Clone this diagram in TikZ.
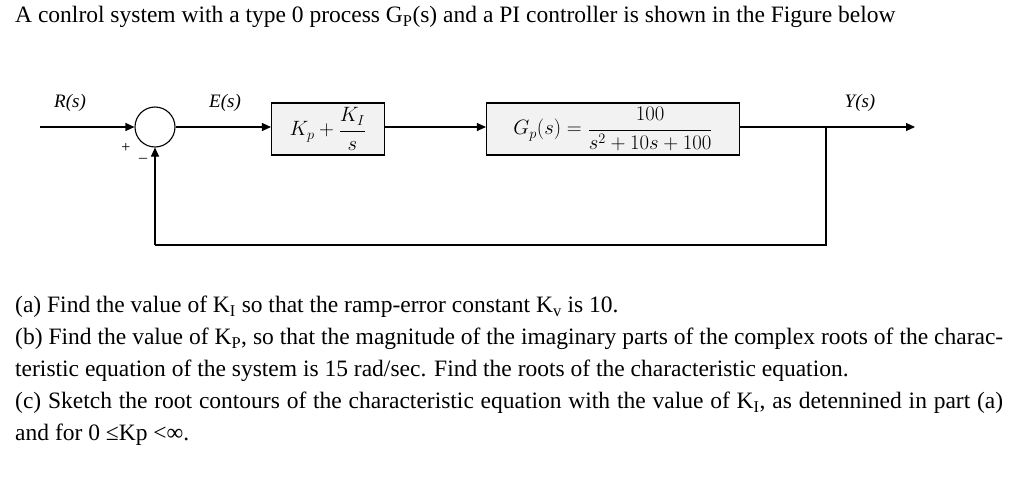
\documentclass[tikz,border=0pt]{standalone}
\usepackage{fontspec}
\setmainfont{Liberation Serif}
\usetikzlibrary{arrows.meta}
\begin{document}
\begin{tikzpicture}[x=1pt,y=-1pt,
  para/.style={anchor=north west,inner sep=0pt,text width=988pt,align=justify,font=\fontsize{23.5}{32}\selectfont},
  blk/.style={draw,line width=1.1pt,fill=black!5,minimum height=52pt,inner sep=2pt,font=\fontsize{20}{22}\selectfont\itshape},
  sig/.style={line width=1.1pt},
  arr/.style={sig,-{Triangle[length=9pt,width=8pt]}},
  lab/.style={font=\fontsize{19}{20}\selectfont\itshape}]
\useasboundingbox (0,0) rectangle (1024,503);
\node[para] (t1) at (15,6) {A conlrol system with a type 0 process G\textsubscript{P}(s) and a PI controller is shown in the Figure below};
\node[circle,draw,line width=1.1pt,minimum size=40pt,inner sep=0pt] (sum) at (155,127) {};
\coordinate (in) at (40,127);
\node[blk,minimum width=113pt] (c) at (328,129) {$K_p+\displaystyle\frac{K_I}{s}$};
\node[blk,minimum width=253pt] (g) at (613,129) {$G_p(s)=\displaystyle\frac{100}{s^2+10s+100}$};
\coordinate (br) at (826,127);
\coordinate (out) at (915,127);
\coordinate (fb1) at (826,245);
\coordinate (fb2) at (155,245);
\draw[arr] (in) -- (sum);
\draw[arr] (sum) -- (c.west|-sum);
\draw[arr] (c.east|-sum) -- (g.west|-sum);
\draw[arr] (g.east|-sum) -- (out);
\draw[sig] (br) -- (fb1) -- (fb2);
\draw[arr] (fb2) -- (sum.south);
\node[lab] (r) at (70,103) {R(s)};
\node[lab] (e) at (225,103) {E(s)};
\node[lab] (y) at (860,103) {Y(s)};
\node[font=\fontsize{16}{16}\selectfont] (p) at (126,148) {+};
\node[font=\fontsize{16}{16}\selectfont] (m) at (143,160) {--};
\node[para] (q) at (15,296) {(a) Find the value of K\textsubscript{I} so that the ramp-error constant K\textsubscript{v} is 10.\\
(b) Find the value of K\textsubscript{P}, so that the magnitude of the imaginary parts of the complex roots of the characteristic equation of the system is 15 rad/sec. Find the roots of the characteristic equation.\\
(c) Sketch the root contours of the characteristic equation with the value of K\textsubscript{I}, as detennined in part (a) and for 0 ≤Kp <∞.};
\end{tikzpicture}
\end{document}
